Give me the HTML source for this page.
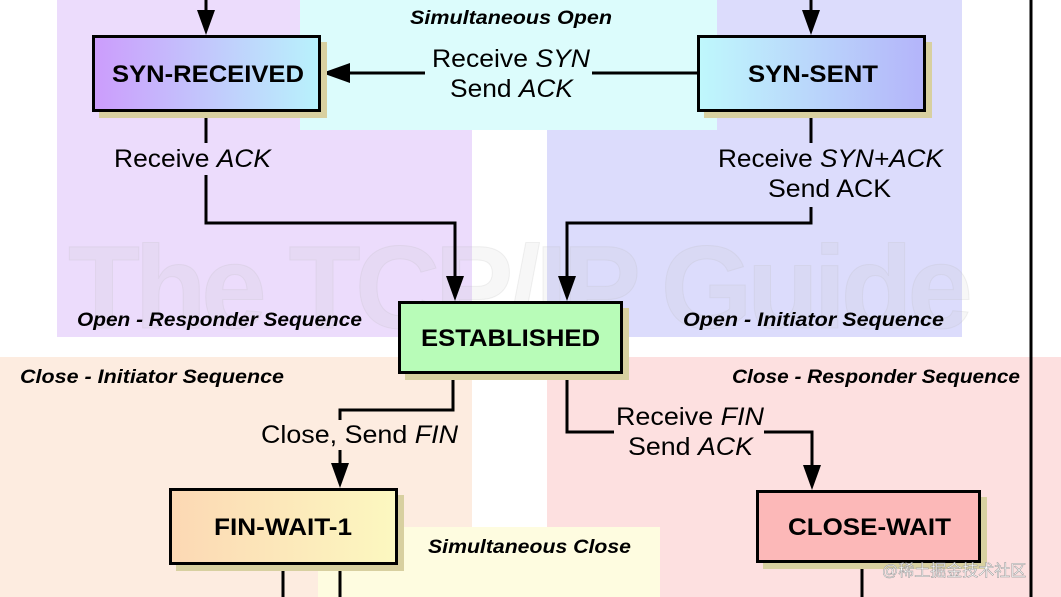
<!DOCTYPE html>
<html><head><meta charset="utf-8"><style>
html,body{margin:0;padding:0;background:#fff;}
svg{display:block;}
text{font-family:"Liberation Sans",Arial,sans-serif;}
.lbl{font-size:25px;fill:#000;}
.reg{font-size:19px;font-weight:bold;font-style:italic;fill:#000;}
.node{font-size:24px;font-weight:bold;fill:#000;}
</style></head><body>
<svg width="1061" height="597" viewBox="0 0 1061 597" xmlns="http://www.w3.org/2000/svg">
<defs>
<linearGradient id="gSR" x1="0" x2="1"><stop offset="0" stop-color="#cc9cfc"/><stop offset="1" stop-color="#b8f2fc"/></linearGradient>
<linearGradient id="gSS" x1="0" x2="1"><stop offset="0" stop-color="#bff8fc"/><stop offset="1" stop-color="#b4b4fa"/></linearGradient>
<linearGradient id="gFW" x1="0" x2="1"><stop offset="0" stop-color="#fcd8b4"/><stop offset="1" stop-color="#fcf8c0"/></linearGradient>
</defs>
<!-- regions -->
<rect x="57" y="0" width="415" height="337" fill="#ecdcfc"/>
<rect x="547" y="0" width="415" height="337" fill="#dcdcfc"/>
<rect x="300" y="0" width="417" height="130" fill="#dcfcfc"/>
<rect x="0" y="357" width="472" height="240" fill="#fdece0"/>
<rect x="547" y="357" width="514" height="240" fill="#fde0e0"/>
<rect x="318" y="527" width="342" height="70" fill="#fefce0"/>
<line x1="1031" y1="0" x2="1031" y2="597" stroke="#000" stroke-width="3"/>
<!-- watermark -->
<text x="68" y="328" font-size="118" font-weight="bold" fill="#c8c8c8" fill-opacity="0.15" stroke="#bbb" stroke-opacity="0.2" textLength="905">The TCP/IP Guide</text>
<!-- region labels -->
<text class="reg" x="410" y="24" textLength="202" lengthAdjust="spacingAndGlyphs">Simultaneous Open</text>
<text class="reg" x="77" y="326" textLength="285" lengthAdjust="spacingAndGlyphs">Open - Responder Sequence</text>
<text class="reg" x="683" y="326" textLength="261" lengthAdjust="spacingAndGlyphs">Open - Initiator Sequence</text>
<text class="reg" x="20" y="383" textLength="264" lengthAdjust="spacingAndGlyphs">Close - Initiator Sequence</text>
<text class="reg" x="732" y="383" textLength="288" lengthAdjust="spacingAndGlyphs">Close - Responder Sequence</text>
<text class="reg" x="428" y="553" textLength="203" lengthAdjust="spacingAndGlyphs">Simultaneous Close</text>
<!-- connectors -->
<g stroke="#000" stroke-width="3" fill="none">
<line x1="206" y1="0" x2="206" y2="22"/>
<line x1="811" y1="0" x2="811" y2="22"/>
<line x1="697" y1="73" x2="592" y2="73"/>
<line x1="425" y1="73" x2="348" y2="73"/>
<polyline points="206,111 206,143"/>
<polyline points="206,175 206,223 455,223 455,285"/>
<polyline points="811,111 811,143"/>
<polyline points="811,207 811,223 567,223 567,285"/>
<polyline points="453,373 453,410 340,410 340,420"/>
<polyline points="340,450 340,472"/>
<polyline points="567,373 567,432 614,432"/>
<polyline points="764,432 812,432 812,474"/>
<line x1="283" y1="564" x2="283" y2="597"/>
<line x1="340" y1="564" x2="340" y2="597"/>
<line x1="862" y1="562" x2="862" y2="597"/>
</g>
<g fill="#000">
<polygon points="197,10 215,10 206,35"/>
<polygon points="802,10 820,10 811,35"/>
<polygon points="322,73 350,63 350,83"/>
<polygon points="446,276 464,276 455,301"/>
<polygon points="558,276 576,276 567,301"/>
<polygon points="331,463 349,463 340,488"/>
<polygon points="803,465 821,465 812,490"/>
</g>
<!-- connector labels -->
<text class="lbl" x="432" y="67" textLength="158" lengthAdjust="spacingAndGlyphs">Receive <tspan font-style="italic">SYN</tspan></text>
<text class="lbl" x="450" y="97" textLength="123" lengthAdjust="spacingAndGlyphs">Send <tspan font-style="italic">ACK</tspan></text>
<text class="lbl" x="114" y="167" textLength="157" lengthAdjust="spacingAndGlyphs">Receive <tspan font-style="italic">ACK</tspan></text>
<text class="lbl" x="718" y="167" textLength="225" lengthAdjust="spacingAndGlyphs">Receive <tspan font-style="italic">SYN+ACK</tspan></text>
<text class="lbl" x="768" y="197" textLength="123" lengthAdjust="spacingAndGlyphs">Send ACK</text>
<text class="lbl" x="261" y="443" textLength="197" lengthAdjust="spacingAndGlyphs">Close, Send <tspan font-style="italic">FIN</tspan></text>
<text class="lbl" x="616" y="425" textLength="148" lengthAdjust="spacingAndGlyphs">Receive <tspan font-style="italic">FIN</tspan></text>
<text class="lbl" x="628" y="455" textLength="125" lengthAdjust="spacingAndGlyphs">Send <tspan font-style="italic">ACK</tspan></text>
<!-- nodes -->
<g>
<rect x="99" y="42" width="228" height="76" fill="#d8d0a0"/>
<rect x="93.5" y="36.5" width="226" height="74" fill="url(#gSR)" stroke="#000" stroke-width="3"/>
<text class="node" x="112" y="82" textLength="192" lengthAdjust="spacingAndGlyphs">SYN-RECEIVED</text>
<rect x="704" y="42" width="228" height="76" fill="#d8d0a0"/>
<rect x="698.5" y="36.5" width="226" height="74" fill="url(#gSS)" stroke="#000" stroke-width="3"/>
<text class="node" x="748" y="82" textLength="130" lengthAdjust="spacingAndGlyphs">SYN-SENT</text>
<rect x="405" y="308" width="224" height="72" fill="#d8d0a0"/>
<rect x="399.5" y="302.5" width="222" height="70" fill="#b8fcb8" stroke="#000" stroke-width="3"/>
<text class="node" x="421" y="346" textLength="179" lengthAdjust="spacingAndGlyphs">ESTABLISHED</text>
<rect x="176" y="495" width="228" height="76" fill="#d8d0a0"/>
<rect x="170.5" y="489.5" width="226" height="74" fill="url(#gFW)" stroke="#000" stroke-width="3"/>
<text class="node" x="214" y="535" textLength="138" lengthAdjust="spacingAndGlyphs">FIN-WAIT-1</text>
<rect x="763" y="497" width="224" height="72" fill="#d8d0a0"/>
<rect x="757.5" y="491.5" width="222" height="70" fill="#fcb8b8" stroke="#000" stroke-width="3"/>
<text class="node" x="788" y="535" textLength="163" lengthAdjust="spacingAndGlyphs">CLOSE-WAIT</text>
</g>
<text x="882" y="576" font-size="16" fill="#fff" stroke="#999" stroke-width="0.5" font-family="'Liberation Sans','Noto Sans CJK SC',sans-serif">@稀土掘金技术社区</text>
</svg>
</body></html>
